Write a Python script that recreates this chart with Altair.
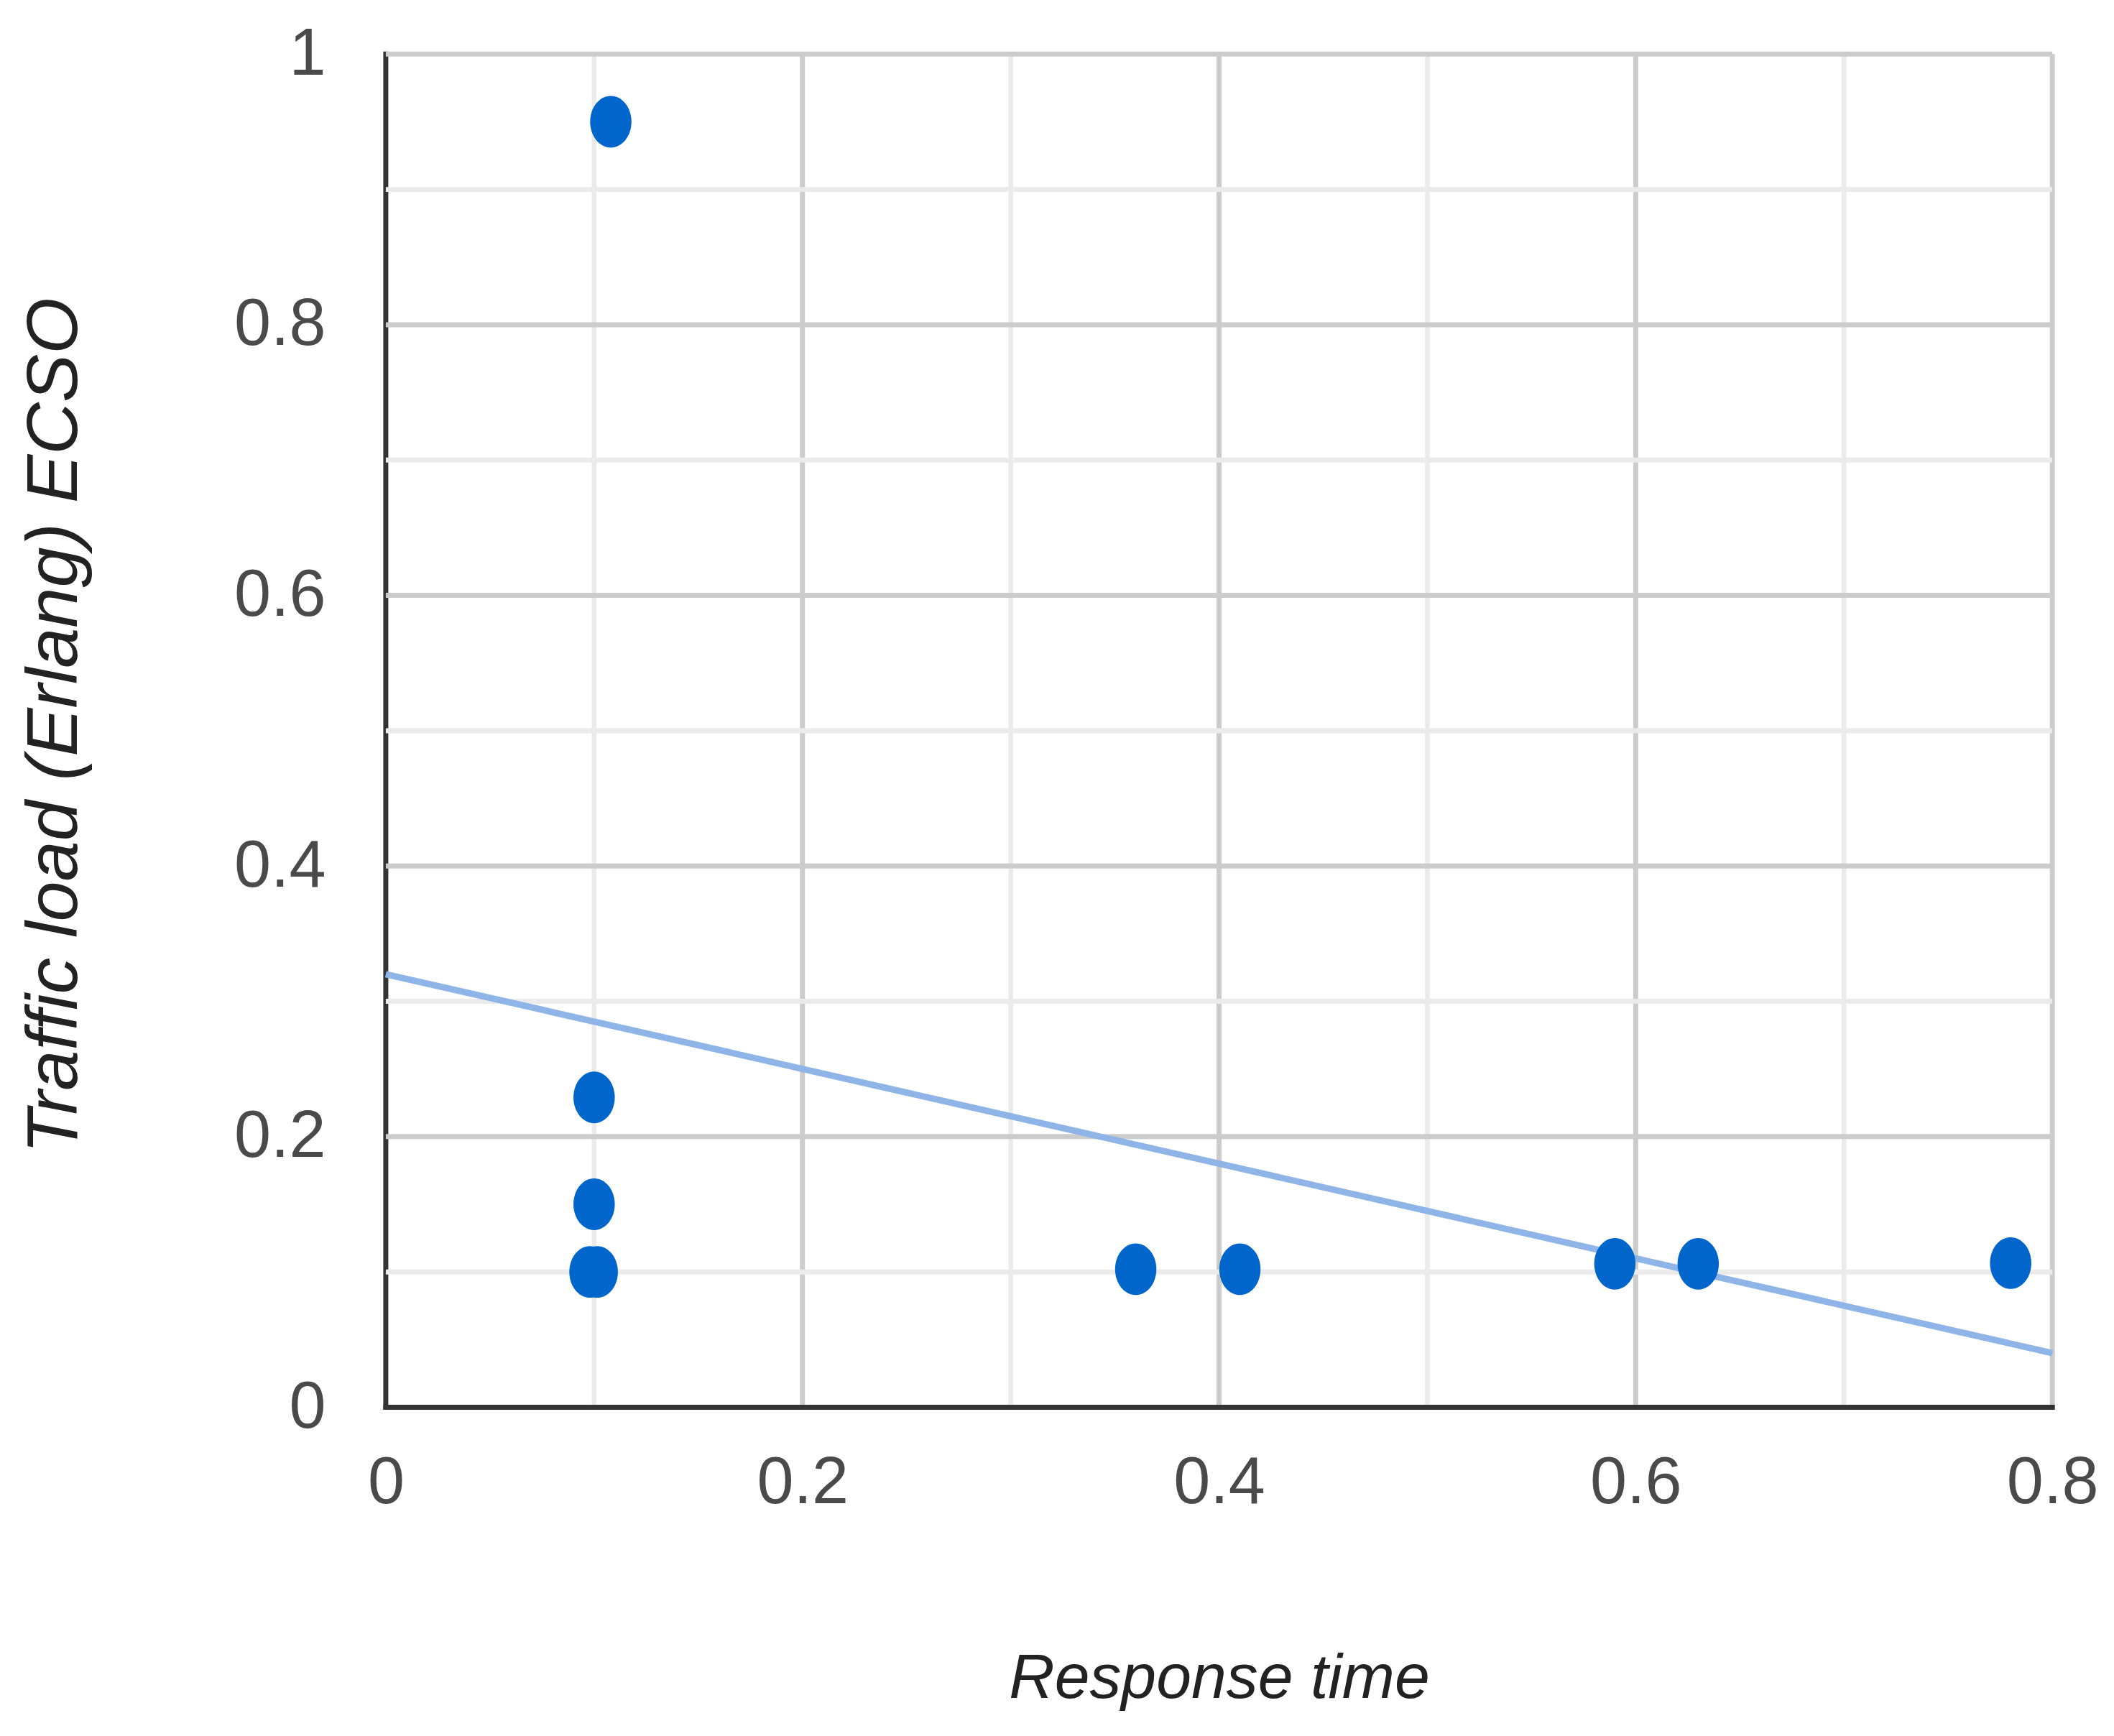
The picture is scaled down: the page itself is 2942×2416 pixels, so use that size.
import altair as alt
import pandas as pd

# ---- data ----
resp_time = [0.108, 0.098, 0.1015, 0.100, 0.100, 0.360, 0.410, 0.590, 0.630, 0.780]
traffic_load = [0.950, 0.100, 0.100, 0.150, 0.229, 0.102, 0.102, 0.106, 0.106, 0.1065]

trend_x = [0.0, 0.8]
trend_y = [0.320, 0.040]

x_ticks = [0, 0.2, 0.4, 0.6, 0.8]
y_ticks = [0, 0.2, 0.4, 0.6, 0.8, 1.0]
x_major_grid = [0.2, 0.4, 0.6, 0.8]
x_minor_grid = [0.1, 0.3, 0.5, 0.7]
y_major_grid = [0.2, 0.4, 0.6, 0.8, 1.0]
y_minor_grid = [0.1, 0.3, 0.5, 0.7, 0.9]
x_base = [0.0]
y_base = [0.0]

points_df = pd.DataFrame({"x": resp_time, "y": traffic_load})
trend_df = pd.DataFrame({"x": trend_x, "y": trend_y})

FONT = "Liberation Sans, Arial, sans-serif"

xs = alt.Scale(domain=[0, 0.8], nice=False, zero=False)
ys = alt.Scale(domain=[0, 1], nice=False, zero=False)

x_axis = alt.Axis(
    values=x_ticks, format="~g", title="Response time",
    domain=False, ticks=False, grid=False,
    labelFont=FONT, labelFontSize=92, labelColor="#4a4a4a",
    labelPadding=60, labelFlush=False, labelOverlap=False,
    titleFont=FONT, titleFontSize=88, titleFontStyle="italic",
    titleFontWeight="normal", titleColor="#222222",
    titleBaseline="alphabetic", titleY=405,
)
y_axis = alt.Axis(
    values=y_ticks, format="~g", title="Traffic load (Erlang) ECSO",
    domain=False, ticks=False, grid=False,
    labelFont=FONT, labelFontSize=92, labelColor="#4a4a4a",
    labelPadding=84, labelFlush=False, labelOverlap=False,
    titleFont=FONT, titleFontSize=101, titleFontStyle="italic",
    titleFontWeight="normal", titleColor="#222222",
    titleBaseline="alphabetic", titleAngle=270, titleX=-431, titleY=936,
    titleAlign="center",
)


def vrules(vals, color, width, cap="butt"):
    return alt.Chart(pd.DataFrame({"x": vals})).mark_rule(
        color=color, strokeWidth=width, strokeCap=cap
    ).encode(x=alt.X("x:Q", scale=xs, axis=x_axis))


def hrules(vals, color, width, cap="butt"):
    return alt.Chart(pd.DataFrame({"y": vals})).mark_rule(
        color=color, strokeWidth=width, strokeCap=cap
    ).encode(y=alt.Y("y:Q", scale=ys, axis=y_axis))


trend = alt.Chart(trend_df).mark_line(
    color="#8eb4e8", strokeWidth=9
).encode(
    x=alt.X("x:Q", scale=xs, axis=x_axis),
    y=alt.Y("y:Q", scale=ys, axis=y_axis),
)

ellipse = "M -0.8 0 A 0.8 1 0 1 0 0.8 0 A 0.8 1 0 1 0 -0.8 0 Z"
points = alt.Chart(points_df).mark_point(
    shape=ellipse, size=5184, filled=True, fill="#0066cc",
    opacity=1, strokeWidth=0,
).encode(
    x=alt.X("x:Q", scale=xs, axis=x_axis),
    y=alt.Y("y:Q", scale=ys, axis=y_axis),
)

chart = alt.layer(
    vrules(x_minor_grid, "#ebebeb", 6.5),
    vrules(x_major_grid, "#cccccc", 7),
    vrules(x_base, "#333333", 7, "square"),
    hrules(y_minor_grid, "#ebebeb", 7),
    hrules(y_major_grid, "#cccccc", 7),
    hrules(y_base, "#333333", 7, "square"),
    trend,
    points,
).properties(
    width=2324, height=1887,
    autosize=alt.AutoSizeParams(type="none"),
    padding={"left": 530, "top": 65, "right": 78, "bottom": 440},
    background="white",
).configure_view(stroke=None)

chart.save("out.html", embed_options={"renderer": "svg", "actions": False})
